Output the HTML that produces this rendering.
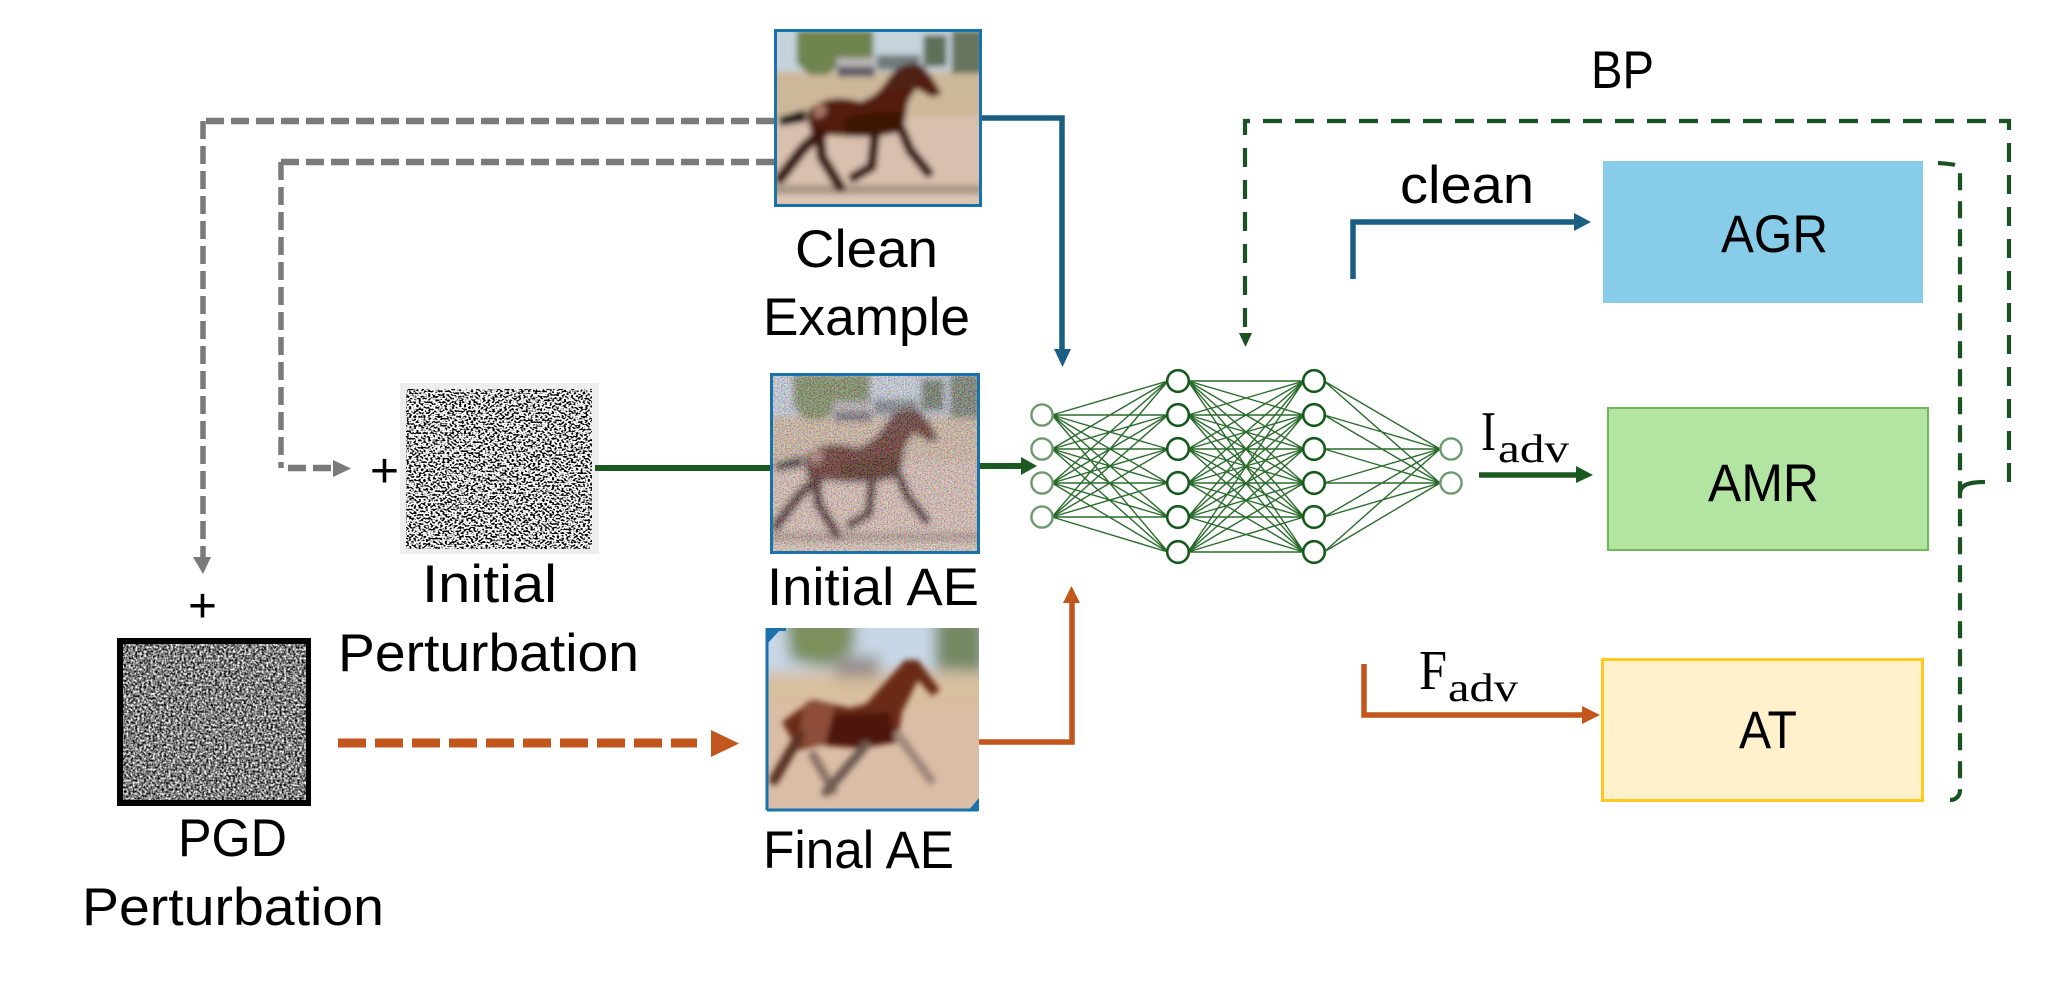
<!DOCTYPE html>
<html>
<head>
<meta charset="utf-8">
<style>
html,body{margin:0;padding:0;background:#fff;}
svg{display:block;}
text{font-family:"Liberation Sans",sans-serif;fill:#000;}
.s{font-family:"Liberation Serif",serif;}
</style>
</head>
<body>
<svg width="2056" height="1004" viewBox="0 0 2056 1004" xmlns="http://www.w3.org/2000/svg">
<defs>
<filter id="b1" x="-10%" y="-10%" width="120%" height="120%"><feGaussianBlur stdDeviation="7"/></filter>
<filter id="b2" x="-10%" y="-10%" width="120%" height="120%"><feGaussianBlur stdDeviation="3"/></filter>
<filter id="b3" x="-10%" y="-10%" width="120%" height="120%"><feGaussianBlur stdDeviation="9"/></filter>
<filter id="nBin" x="0" y="0" width="100%" height="100%" color-interpolation-filters="sRGB">
  <feTurbulence type="fractalNoise" baseFrequency="0.42 0.55" numOctaves="1" seed="7"/>
  <feColorMatrix type="matrix" values="1 0 0 0 0 1 0 0 0 0 1 0 0 0 0 0 0 0 0 1"/>
  <feComponentTransfer><feFuncR type="linear" slope="9" intercept="-3.7"/><feFuncG type="linear" slope="9" intercept="-3.7"/><feFuncB type="linear" slope="9" intercept="-3.7"/></feComponentTransfer>
</filter>
<filter id="nGray" x="0" y="0" width="100%" height="100%" color-interpolation-filters="sRGB">
  <feTurbulence type="fractalNoise" baseFrequency="0.45" numOctaves="2" seed="3"/>
  <feColorMatrix type="matrix" values="1 0 0 0 0 1 0 0 0 0 1 0 0 0 0 0 0 0 0 1"/>
  <feComponentTransfer><feFuncR type="linear" slope="2" intercept="-0.5"/><feFuncG type="linear" slope="2" intercept="-0.5"/><feFuncB type="linear" slope="2" intercept="-0.5"/></feComponentTransfer>
</filter>
<filter id="nCol" x="0" y="0" width="100%" height="100%" color-interpolation-filters="sRGB">
  <feTurbulence type="fractalNoise" baseFrequency="0.7" numOctaves="2" seed="11"/>
  <feColorMatrix type="matrix" values="3 0 0 0 -0.75 0 3 0 0 -0.8 0 0 3 0 -0.75 0 0 0 0 1"/>
</filter>
<clipPath id="c1"><rect x="774" y="29" width="208" height="178"/></clipPath>
<clipPath id="c2"><rect x="770" y="373" width="210" height="181"/></clipPath>
<clipPath id="c3"><rect x="766" y="628" width="213" height="183"/></clipPath>
<g id="scene">
  <g filter="url(#b3)">
    <rect x="0" y="0" width="720" height="600" fill="#d8bfae"/>
    <rect x="0" y="0" width="720" height="170" fill="#c6d2dc"/>
    <rect x="0" y="155" width="720" height="135" fill="#cdb79a"/>
    <path d="M110 30H340V115L250 130L200 165H150L110 130Z" fill="#6f8450"/>
    <path d="M490 45H560V140H490Z" fill="#5f6f58"/>
    <path d="M575 30H670V160H575Z" fill="#67755f"/>
    <path d="M350 105H480V150H350Z" fill="#6f7a7c"/>
    <rect x="230" y="113" width="115" height="28" fill="#b9b4b4"/>
    <rect x="232" y="140" width="112" height="30" fill="#5f5c66"/>
    <rect x="42" y="495" width="623" height="28" fill="#a99584"/>
    <rect x="42" y="523" width="623" height="35" fill="#dcc6b4"/>
    <path d="M55 292L135 268L140 305L60 318Z" fill="#0d0808"/>
    <path d="M140 280C170 235 240 225 300 245C340 230 360 215 385 175C410 135 460 120 490 140C510 160 530 195 545 222L515 232L470 205C455 225 440 245 440 270L430 335L350 350L270 350L205 345L175 370L150 330Z" fill="#521f0f"/>
    <path d="M165 255C180 245 200 250 200 275C195 290 175 300 160 290Z" fill="#a57565"/>
    <path d="M250 300C300 275 400 270 435 280L425 335L350 350L260 345Z" fill="#3d1406"/>
    <path d="M390 170C410 140 460 130 490 150L470 195C440 200 410 215 385 220Z" fill="#4f2019"/>
    <g fill="none" stroke="#3a180e" stroke-linecap="round" stroke-linejoin="round">
      <path d="M180 340L130 385L60 475" stroke-width="34"/>
      <path d="M180 345L185 410L240 500" stroke-width="32"/>
      <path d="M345 345L335 440L280 472" stroke-width="30"/>
      <path d="M425 330L450 390L505 458" stroke-width="30"/>
    </g>
  </g>
</g>
</defs>

<rect width="2056" height="1004" fill="#fff"/>

<!-- Clean image -->
<g clip-path="url(#c1)"><use href="#scene" transform="translate(760 20) scale(0.3333)"/></g>
<rect x="775.5" y="30.5" width="205" height="175" fill="none" stroke="#1a72ab" stroke-width="3"/>

<!-- Initial AE -->
<g clip-path="url(#c2)">
  <use href="#scene" transform="translate(755.8 363.4) scale(0.337 0.3415)"/>
  <rect x="770" y="373" width="210" height="181" filter="url(#nCol)" opacity="0.36"/>
</g>
<rect x="771.5" y="374.5" width="207" height="178" fill="none" stroke="#1a72ab" stroke-width="3"/>

<!-- Final AE -->
<g clip-path="url(#c3)">
  <g filter="url(#b1)">
    <rect x="750" y="610" width="245" height="220" fill="#d9bda6"/>
    <rect x="750" y="610" width="245" height="62" fill="#c8d7e6"/>
    <path d="M785 615H855V650L825 668L790 660Z" fill="#7c8f5c"/>
    <path d="M935 615H985V672L935 670Z" fill="#748864"/>
    <path d="M833 658L880 655L878 682L835 682Z" fill="#99908e"/>
    <rect x="750" y="678" width="245" height="26" fill="#d8bf9c"/>
  </g>
  <g filter="url(#b2)">
    <path d="M782 722L812 700L850 708L866 704L905 660L918 660L940 690L932 696L918 680L902 712L898 742L860 748L820 745L798 750Z" fill="#6b2c14"/>
    <path d="M825 715L890 712L895 742L860 748L825 745Z" fill="#4e1808"/>
    <path d="M805 702L835 706L825 745L797 745Z" fill="#8d4d38"/>
    <g fill="none" stroke-linecap="round">
      <path d="M800 735L774 780" stroke="#5a3024" stroke-width="10"/>
      <path d="M813 755L833 790" stroke="#8d7468" stroke-width="9"/>
      <path d="M866 745L826 792" stroke="#6d5a50" stroke-width="9"/>
      <path d="M898 735L931 780" stroke="#a0877a" stroke-width="9"/>
    </g>
  </g>
</g>
<path d="M767 810V629.5H786" fill="none" stroke="#1a72ab" stroke-width="3"/>
<path d="M767 810H978" fill="none" stroke="#1a72ab" stroke-width="3"/>
<path d="M979 798V811H968Z" fill="#1a72ab"/>
<path d="M768 630H780L768 643Z" fill="#1a72ab"/>

<!-- Initial perturbation -->
<rect x="400" y="383" width="199" height="171" fill="#eeeeee"/>
<rect x="406" y="389" width="186" height="160" filter="url(#nBin)"/>

<!-- PGD -->
<rect x="117" y="638" width="194" height="168" fill="#000"/>
<rect x="123" y="644" width="183" height="156" filter="url(#nGray)"/>

<!-- Gray dashed -->
<g fill="none" stroke="#7a7a7a">
  <path d="M774 121H203" stroke-width="6.5" stroke-dasharray="18 7"/>
  <path d="M203 121V558" stroke-width="5.5" stroke-dasharray="18 7"/>
  <path d="M774 162H281" stroke-width="6.5" stroke-dasharray="18 7"/>
  <path d="M281 162V468" stroke-width="5.5" stroke-dasharray="18 7"/>
  <path d="M281 468H334" stroke-width="6.5" stroke-dasharray="18 7" stroke-dashoffset="-7"/>
</g>
<path d="M193 557H211L203 574Z" fill="#7a7a7a"/>
<path d="M333 460L351 468.5L333 477Z" fill="#7a7a7a"/>

<!-- Green solid -->
<path d="M595 468H770" stroke="#1a5a20" stroke-width="6" fill="none"/>
<path d="M980 466H1024" stroke="#1a5a20" stroke-width="6" fill="none"/>
<path d="M1021 457L1037 466L1021 475Z" fill="#1a5a20"/>

<!-- Blue -->
<path d="M982 118H1062V350" stroke="#1a5e82" stroke-width="5.5" fill="none"/>
<path d="M1054 349H1071L1062.5 367Z" fill="#1a5e82"/>
<path d="M1353 279V222H1576" stroke="#1a5e82" stroke-width="5.5" fill="none"/>
<path d="M1574 213L1591 222L1574 231Z" fill="#1a5e82"/>

<!-- Orange -->
<path d="M979 742H1072V602" stroke="#c2561c" stroke-width="5.5" fill="none"/>
<path d="M1063 603H1080L1071.5 586Z" fill="#c2561c"/>
<path d="M338 743H697" stroke="#c2561c" stroke-width="9" stroke-dasharray="28 9" fill="none"/>
<path d="M711 730L739 743.5L711 757Z" fill="#c2561c"/>
<path d="M1364 664V715H1584" stroke="#c2561c" stroke-width="5.5" fill="none"/>
<path d="M1582 706L1600 715L1582 724Z" fill="#c2561c"/>

<!-- Iadv arrow -->
<path d="M1479 475H1578" stroke="#1a5a20" stroke-width="5.5" fill="none"/>
<path d="M1576 466L1593 475L1576 483Z" fill="#1a5a20"/>

<!-- Green dashed -->
<g fill="none" stroke="#1a5224" stroke-width="4.2">
  <path d="M2009 482V121H1245V335" stroke-dasharray="19 13"/>
  <path d="M1938 163C1950 164 1960 164 1960 170V790C1960 796 1956 800 1950 800" stroke-dasharray="17 11"/>
  <path d="M1960 494C1960 486 1966 482 1985 482"/>
</g>
<path d="M1239 333H1252L1245.5 347Z" fill="#1a5224"/>

<!-- Boxes -->
<rect x="1603" y="161" width="320" height="142" fill="#87cdea"/>
<rect x="1608" y="408" width="320" height="142" fill="#b2e5a1" stroke="#6fb858" stroke-width="2"/>
<rect x="1602.5" y="659.5" width="320" height="141" fill="#fff1cc" stroke="#ffc91f" stroke-width="3"/>

<!-- Network -->
<g fill="none" stroke="#2a6b2c" stroke-width="1.4">
  <path d="M1052 415L1168 381M1052 415L1168 415M1052 415L1168 449M1052 415L1168 483M1052 415L1168 517M1052 415L1168 552
           M1052 449L1168 381M1052 449L1168 415M1052 449L1168 449M1052 449L1168 483M1052 449L1168 517M1052 449L1168 552
           M1052 483L1168 381M1052 483L1168 415M1052 483L1168 449M1052 483L1168 483M1052 483L1168 517M1052 483L1168 552
           M1052 517L1168 381M1052 517L1168 415M1052 517L1168 449M1052 517L1168 483M1052 517L1168 517M1052 517L1168 552"/>
  <path d="M1188 381L1304 381M1188 381L1304 415M1188 381L1304 449M1188 381L1304 483M1188 381L1304 517M1188 381L1304 552
           M1188 415L1304 381M1188 415L1304 415M1188 415L1304 449M1188 415L1304 483M1188 415L1304 517M1188 415L1304 552
           M1188 449L1304 381M1188 449L1304 415M1188 449L1304 449M1188 449L1304 483M1188 449L1304 517M1188 449L1304 552
           M1188 483L1304 381M1188 483L1304 415M1188 483L1304 449M1188 483L1304 483M1188 483L1304 517M1188 483L1304 552
           M1188 517L1304 381M1188 517L1304 415M1188 517L1304 449M1188 517L1304 483M1188 517L1304 517M1188 517L1304 552
           M1188 552L1304 381M1188 552L1304 415M1188 552L1304 449M1188 552L1304 483M1188 552L1304 517M1188 552L1304 552"/>
  <path d="M1324 381L1440 449M1324 381L1440 483M1324 415L1440 449M1324 415L1440 483M1324 449L1440 449M1324 449L1440 483
           M1324 483L1440 449M1324 483L1440 483M1324 517L1440 449M1324 517L1440 483M1324 552L1440 449M1324 552L1440 483"/>
</g>
<g fill="#fff" stroke="#6d9a6f" stroke-width="2.4">
  <circle cx="1042" cy="415" r="10.6"/><circle cx="1042" cy="449" r="10.6"/><circle cx="1042" cy="483" r="10.6"/><circle cx="1042" cy="517" r="10.6"/>
  <circle cx="1451" cy="449" r="10.6"/><circle cx="1451" cy="483" r="10.6"/>
</g>
<g fill="#fff" stroke="#155a1c" stroke-width="2.6">
  <circle cx="1178" cy="381" r="10.8"/><circle cx="1178" cy="415" r="10.8"/><circle cx="1178" cy="449" r="10.8"/><circle cx="1178" cy="483" r="10.8"/><circle cx="1178" cy="517" r="10.8"/><circle cx="1178" cy="552" r="10.8"/>
  <circle cx="1314" cy="381" r="10.8"/><circle cx="1314" cy="415" r="10.8"/><circle cx="1314" cy="449" r="10.8"/><circle cx="1314" cy="483" r="10.8"/><circle cx="1314" cy="517" r="10.8"/><circle cx="1314" cy="552" r="10.8"/>
</g>

<!-- Labels -->
<g font-size="53">
  <text x="795" y="267" textLength="143" lengthAdjust="spacingAndGlyphs">Clean</text>
  <text x="763" y="335" textLength="207" lengthAdjust="spacingAndGlyphs">Example</text>
  <text x="422" y="602" textLength="135" lengthAdjust="spacingAndGlyphs">Initial</text>
  <text x="338" y="671" textLength="301" lengthAdjust="spacingAndGlyphs">Perturbation</text>
  <text x="767" y="605" textLength="212" lengthAdjust="spacingAndGlyphs">Initial AE</text>
  <text x="178" y="856" textLength="109" lengthAdjust="spacingAndGlyphs">PGD</text>
  <text x="82" y="925" textLength="302" lengthAdjust="spacingAndGlyphs">Perturbation</text>
  <text x="763" y="868" textLength="191" lengthAdjust="spacingAndGlyphs">Final AE</text>
  <text x="1591" y="88" textLength="63" lengthAdjust="spacingAndGlyphs">BP</text>
  <text x="1400" y="203" textLength="134" lengthAdjust="spacingAndGlyphs">clean</text>
  <text x="1721" y="252" textLength="107" lengthAdjust="spacingAndGlyphs">AGR</text>
  <text x="1708" y="501" textLength="111" lengthAdjust="spacingAndGlyphs">AMR</text>
  <text x="1739" y="748" textLength="58" lengthAdjust="spacingAndGlyphs">AT</text>
</g>
<text x="370" y="487" font-size="48" textLength="29" lengthAdjust="spacingAndGlyphs">+</text>
<text x="188" y="622" font-size="48" textLength="29" lengthAdjust="spacingAndGlyphs">+</text>

<text class="s" x="1481" y="450" font-size="56" textLength="15" lengthAdjust="spacingAndGlyphs">I</text>
<text class="s" x="1498" y="462" font-size="40" textLength="71" lengthAdjust="spacingAndGlyphs">adv</text>
<text class="s" x="1419" y="689" font-size="56" textLength="28" lengthAdjust="spacingAndGlyphs">F</text>
<text class="s" x="1448" y="701" font-size="40" textLength="70" lengthAdjust="spacingAndGlyphs">adv</text>
</svg>
</body>
</html>
